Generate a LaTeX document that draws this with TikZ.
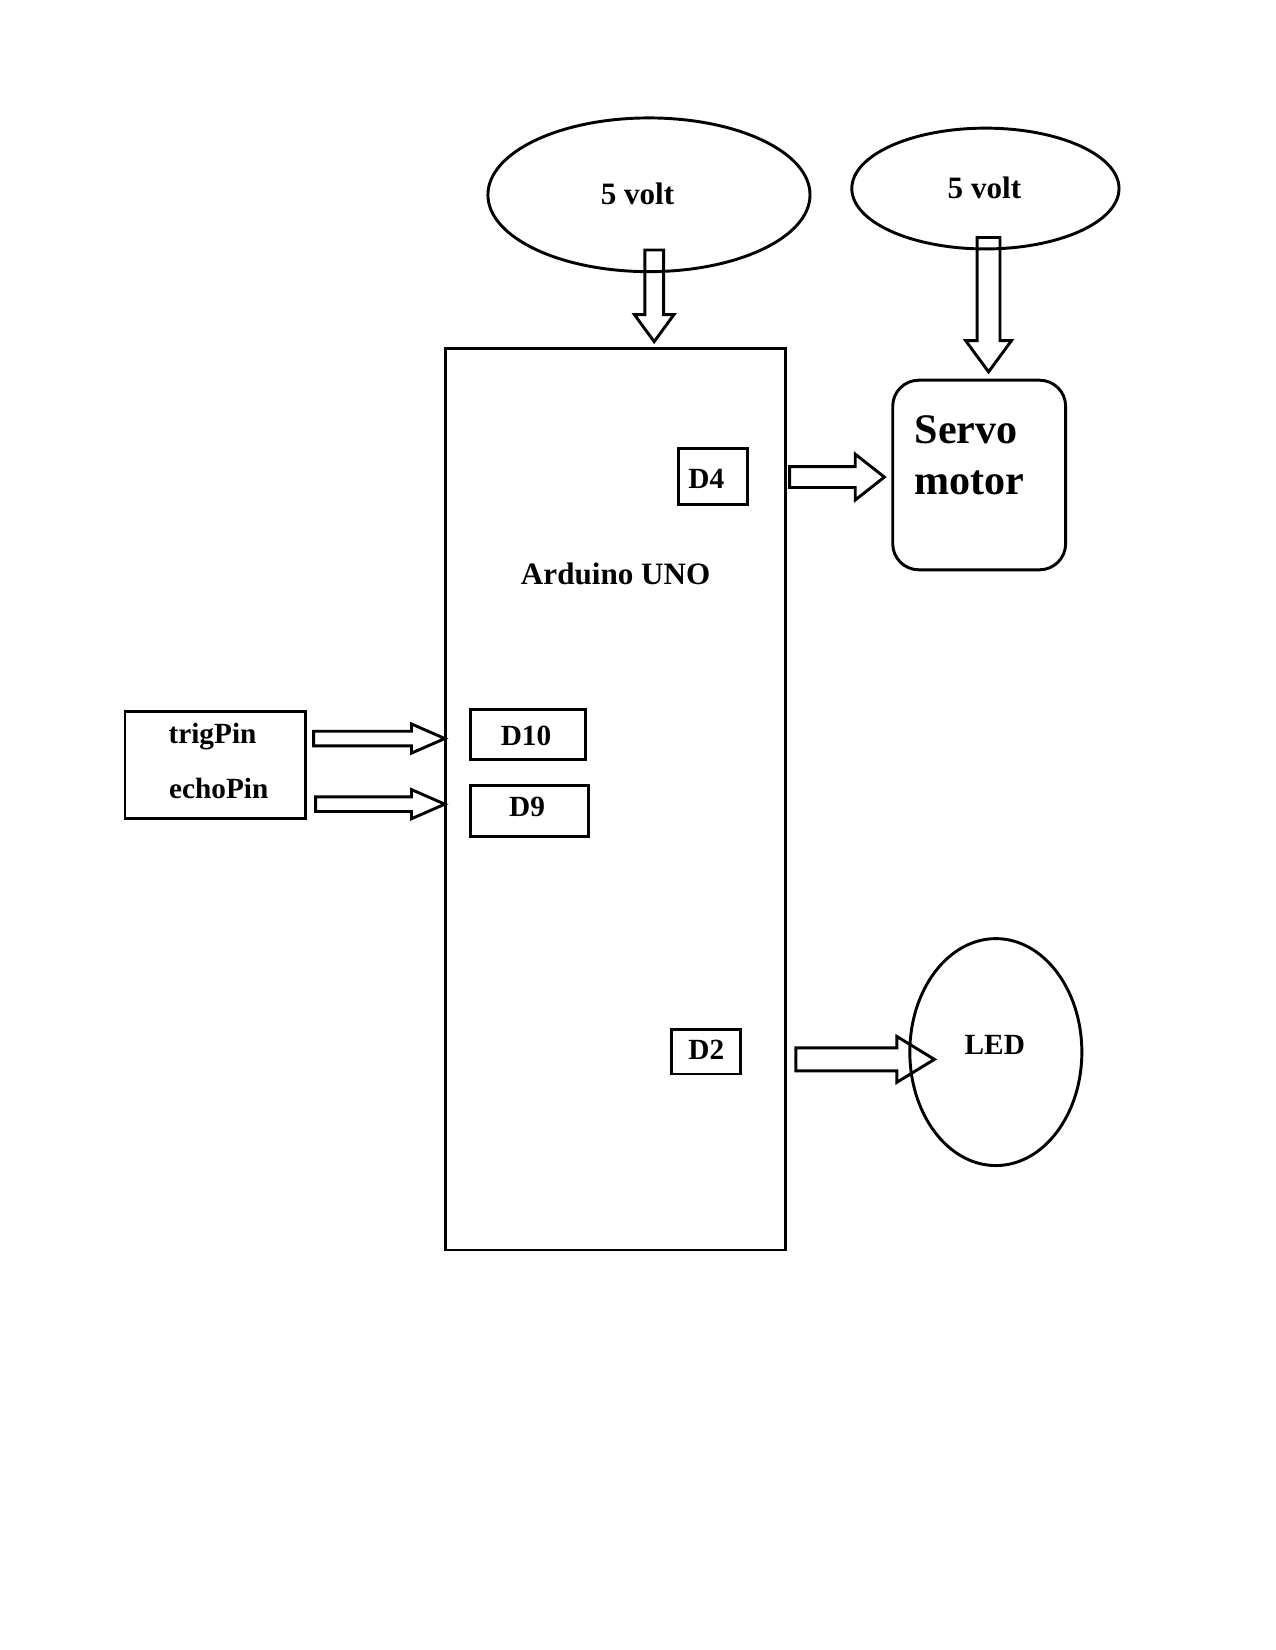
\documentclass[tikz,border=0pt]{standalone}
\usepackage{fontspec}
\setmainfont{Liberation Serif}
\usetikzlibrary{shapes.geometric}
% hollow block arrows, coordinates in image pixels
\newcommand{\harrow}[6]{% x1 x2 y halfshaft halfhead headlen
  \draw[blk] (#1,#3-#4) -- (#2-#6,#3-#4) -- (#2-#6,#3-#5) -- (#2,#3)
    -- (#2-#6,#3+#5) -- (#2-#6,#3+#4) -- (#1,#3+#4) -- cycle;}
\newcommand{\varrow}[6]{% y1 y2 x halfshaft halfhead headlen
  \draw[blk] (#3-#4,#1) -- (#3-#4,#2-#6) -- (#3-#5,#2-#6) -- (#3,#2)
    -- (#3+#5,#2-#6) -- (#3+#4,#2-#6) -- (#3+#4,#1) -- cycle;}
\begin{document}
\begin{tikzpicture}[x=0.02cm,y=-0.02cm,
  blk/.style={line width=1.6pt,line join=miter},
  box/.style={draw,line width=1.6pt,inner sep=0pt},
  ell/.style={ellipse,draw,line width=1.6pt,inner sep=0pt},
  txt/.style={font=\bfseries\fontsize{17}{20}\selectfont}]
\useasboundingbox (0,0) rectangle (1224,1584);
% boxes
\draw[line width=1.6pt] (428,335) rectangle (754,1200);
\node[txt] (uno) at (591,551) {Arduino UNO};
\node[ell,minimum width=176,minimum height=84] (v1) at (623,187) {};
\node[txt] at (612,186) {5 volt};
\node[ell,minimum width=146,minimum height=66] (v2) at (946,181) {};
\node[txt] at (945,180) {5 volt};
\draw[line width=1.6pt,rounded corners=0.5cm] (857,365) rectangle (1023,547);
\node[anchor=north west,align=left,font=\bfseries\fontsize{23}{28}\selectfont] (servo) at (872,393) {Servo\\motor};
\draw[line width=1.6pt] (651,431) rectangle (718,484);
\node[txt,font=\bfseries\fontsize{16}{19}\selectfont] (d4) at (678,460) {D4};
\draw[line width=1.6pt] (452,681) rectangle (562,729);
\node[txt,font=\bfseries\fontsize{16}{19}\selectfont] (d10) at (505,706) {D10};
\draw[line width=1.6pt] (452,754) rectangle (565,803);
\node[txt,font=\bfseries\fontsize{16}{19}\selectfont] (d9) at (506,775) {D9};
\draw[line width=1.6pt] (645,988) rectangle (711,1031);
\node[txt,font=\bfseries\fontsize{16}{19}\selectfont] (d2) at (678,1008) {D2};
\draw[line width=1.6pt] (120,683) rectangle (293,786);
\node[txt,font=\bfseries\fontsize{16}{19}\selectfont] (trig) at (204,707) {trigPin};
\node[txt,font=\bfseries\fontsize{16}{19}\selectfont] (echo) at (210,757) {echoPin};
\node[ell,minimum width=94,minimum height=124] (led) at (956,1010) {};
\node[txt,font=\bfseries\fontsize{16}{19}\selectfont] at (955,1003) {LED};
% arrows
\varrow{240}{328}{628}{9}{19}{26}
\varrow{228}{357}{949}{11}{22}{30}
\harrow{758}{849}{458}{10}{22}{28}
\harrow{301}{427}{709}{7}{14}{32}
\harrow{303}{427}{772}{7}{14}{32}
\harrow{764}{897}{1017}{11}{22}{36}
\end{tikzpicture}
\end{document}
